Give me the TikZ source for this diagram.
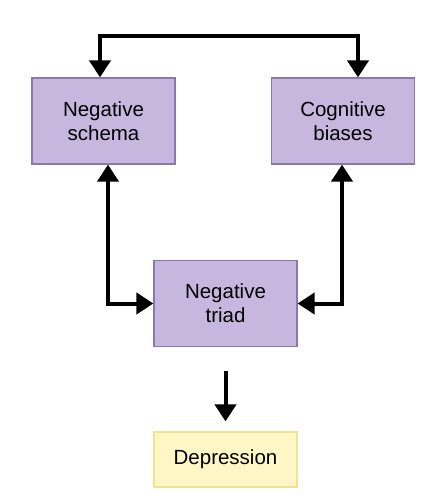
\documentclass[tikz,border=0pt]{standalone}
\usepackage{fontspec}
\setmainfont{Liberation Sans}
\usetikzlibrary{arrows.meta}
\definecolor{boxfill}{HTML}{C7B6DE}
\definecolor{boxline}{HTML}{8A78AE}
\definecolor{depfill}{HTML}{FEF6C4}
\definecolor{depline}{HTML}{F0E398}
\tikzset{
  purplebox/.style={draw=boxline, line width=1.2pt, fill=boxfill, minimum width=143pt, minimum height=86pt, align=center, inner sep=0pt, font=\fontsize{20.5}{24}\selectfont},
  yellowbox/.style={draw=depline, line width=1.2pt, fill=depfill, minimum width=143pt, minimum height=55pt, align=center, inner sep=0pt, font=\fontsize{20.5}{24}\selectfont},
  fat/.style={line width=4pt, black},
  tip/.style={-{Triangle[length=17pt,width=21pt]}},
  bothtip/.style={{Triangle[length=17pt,width=21pt]}-{Triangle[length=17pt,width=21pt]}}
}
\begin{document}
\begin{tikzpicture}[x=1pt, y=-1pt]
        \useasboundingbox[fill=white] (0,0) rectangle (439,500);
        % boxes
        \node[purplebox] (schema) at (103.5,121) {Negative\\schema};
        \node[purplebox] (biases) at (343,121) {Cognitive\\biases};
        \node[purplebox] (triad) at (225.5,303.5) {Negative\\triad};
        \node[yellowbox] (depr) at (225.5,459.5) {Depression};
        % connectors
        \draw[fat, bothtip] ([xshift=-3.5pt]schema.north) -- ++(0,-41) -| ([xshift=15pt]biases.north);
        \draw[fat, bothtip] (triad.west) -| ([xshift=4.5pt]schema.south);
        \draw[fat, bothtip] (triad.east) -| ([xshift=-1pt]biases.south);
        \draw[fat, tip] ([yshift=-24pt]triad.south) -- ([yshift=10pt]depr.north);
\end{tikzpicture}
\end{document}
